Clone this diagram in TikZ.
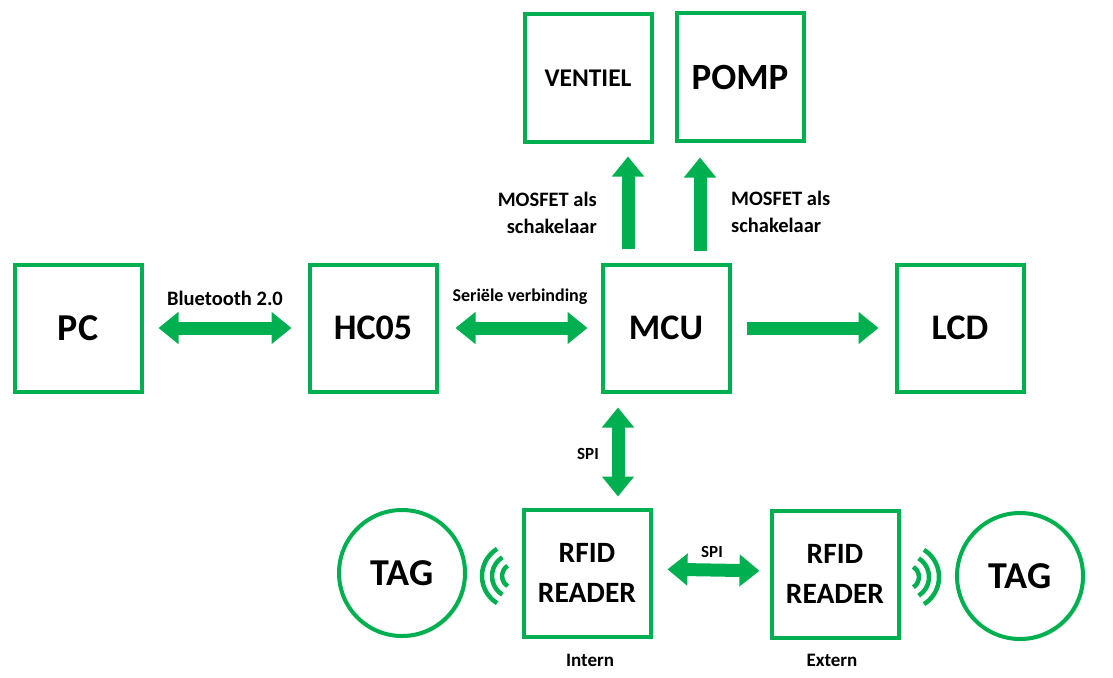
\documentclass[tikz,border=0pt]{standalone}
\usepackage{fontspec}
\setmainfont{Carlito}
\usepackage{tikz}
\usetikzlibrary{calc, positioning, arrows.meta, shadows}
\definecolor{blockgreen}{RGB}{0, 176, 80}

\tikzset{
  block/.style={draw=blockgreen, line width=4pt, fill=white, minimum size=127pt,
    inner sep=0pt, align=center, font=\bfseries,
    drop shadow={shadow xshift=2pt, shadow yshift=-2pt, opacity=0.25}},
  tagcircle/.style={block, circle, minimum size=126pt},
  bigtext/.style={font=\fontsize{36}{40}\selectfont\bfseries},
  midtext/.style={font=\fontsize{29.5}{40}\selectfont\bfseries},
  lbl/.style={font=\fontsize{20.5}{27}\selectfont\bfseries, inner sep=0pt},
  flow/.style={line width=13pt, draw=blockgreen, -{Triangle[width=31pt, length=20pt]}},
  flowboth/.style={line width=13pt, draw=blockgreen,
    {Triangle[width=31pt, length=20pt]}-{Triangle[width=31pt, length=20pt]}},
  wave/.style={draw=blockgreen, line width=4.5pt},
}

\begin{document}
\begin{tikzpicture}[x=1pt, y=-1pt]
  \useasboundingbox (0,0) rectangle (1113,677);

  % --- blocks ---
  \node[block, font=\fontsize{38}{40}\selectfont\bfseries] (pc) at (78,328) {PC};
  \node[block, bigtext] (hc05) at (373,328) {HC05};
  \node[block, bigtext] (mcu) at (666,328) {MCU};
  \node[block, bigtext] (lcd) at (960,328) {LCD};
  \node[block, font=\fontsize{25.5}{30}\selectfont\bfseries] (ventiel) at (588,78) {VENTIEL};
  \node[block, font=\fontsize{37}{40}\selectfont\bfseries] (pomp) at (740,77) {POMP};
  \node[block, midtext] (rfidin) at (587,573) {RFID\\READER};
  \node[block, midtext] (rfidex) at (835,574) {RFID\\READER};
  \node[tagcircle, font=\fontsize{38}{40}\selectfont\bfseries] (tagin) at (402,573) {TAG};
  \node[tagcircle, font=\fontsize{38}{40}\selectfont\bfseries] (tagex) at (1020,576) {TAG};

  % --- connectors ---
  \draw[flowboth, shorten <=15pt, shorten >=16pt] (pc) -- (hc05);
  \draw[flowboth, shorten <=17pt, shorten >=13pt] (hc05) -- (mcu);
  \draw[flow, shorten <=15pt, shorten >=16pt] (mcu) -- (lcd);
  \draw[flow, shorten <=14pt, shorten >=13pt] ([xshift=-38pt]mcu.north) -- ([xshift=40pt]ventiel.south);
  \draw[flow, shorten <=12pt, shorten >=15pt] ([xshift=34pt]mcu.north) -- ([xshift=-40pt]pomp.south);
  \draw[flowboth, shorten <=14pt, shorten >=11pt] ([xshift=-48pt]mcu.south) -- ([xshift=31pt]rfidin.north);
  \draw[flowboth, shorten <=15pt, shorten >=10pt] ([yshift=4pt]rfidin.east) -- ([yshift=3pt]rfidex.west);

  % --- labels ---
  \node[lbl] (bt) at (225,298) {Bluetooth 2.0};
  \node[lbl, font=\fontsize{18}{20}\selectfont\bfseries] (ser) at (520,297) {Seriële verbinding};
  \node[lbl, anchor=east, align=right] (mosl) at (597,213) {MOSFET als\\schakelaar};
  \node[lbl, anchor=west, align=left] (mosr) at (731,212) {MOSFET als\\schakelaar};
  \node[lbl, font=\fontsize{17}{20}\selectfont\bfseries] (spiv) at (588,454) {SPI};
  \node[lbl, font=\fontsize{17}{20}\selectfont\bfseries] (spih) at (712,552) {SPI};
  \node[lbl, font=\fontsize{19}{20}\selectfont\bfseries] (intern) at (590,660) {Intern};
  \node[lbl, font=\fontsize{19}{20}\selectfont\bfseries] (extern) at (832,660) {Extern};

  % --- radio waves ---
  \foreach \r in {12,22,32} {
    \draw[wave] (514,576) ++(122:\r) arc[start angle=122, end angle=238, radius=\r];
    \draw[wave] (907,577) ++(-58:\r) arc[start angle=-58, end angle=58, radius=\r];
  }
\end{tikzpicture}
\end{document}
